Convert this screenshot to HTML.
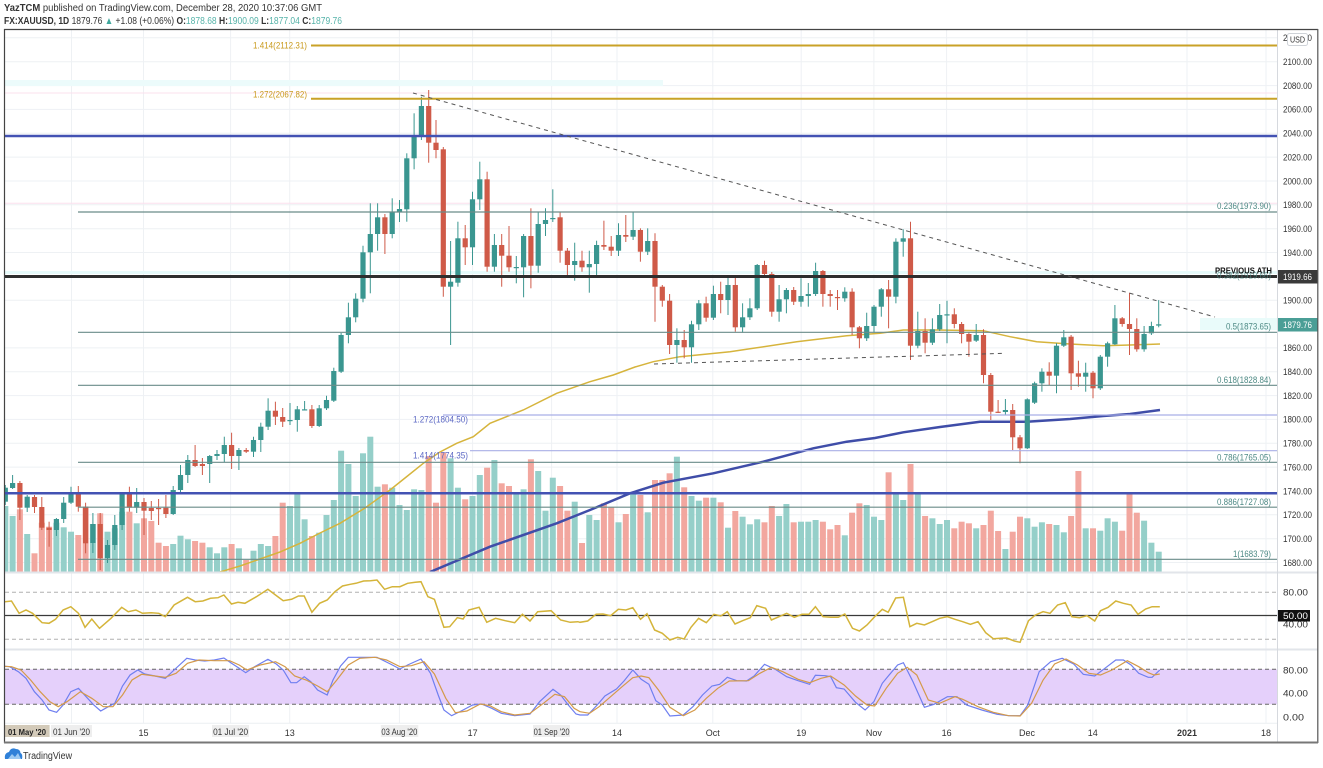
<!DOCTYPE html>
<html><head><meta charset="utf-8">
<style>
html,body{margin:0;padding:0;background:#fff;width:1323px;height:768px;overflow:hidden;}
svg{display:block;font-family:"Liberation Sans",sans-serif;}
</style></head><body>
<svg id="c" width="1323" height="768" viewBox="0 0 1323 768" xmlns="http://www.w3.org/2000/svg">
<defs>
<clipPath id="cm"><rect x="5" y="30" width="1272" height="542"/></clipPath>
<clipPath id="cr"><rect x="5" y="573" width="1272" height="76"/></clipPath>
<clipPath id="cs"><rect x="5" y="650" width="1272" height="73"/></clipPath>
</defs>
<rect x="0" y="0" width="1323" height="768" fill="#fff"/>

<!-- header -->
<text x="4" y="11" font-size="10" textLength="318" lengthAdjust="spacingAndGlyphs" fill="#333"><tspan font-weight="bold">YazTCM</tspan> published on TradingView.com, December 28, 2020 10:37:06 GMT</text>
<text x="4" y="24" font-size="10" textLength="338" lengthAdjust="spacingAndGlyphs" fill="#333"><tspan font-weight="bold">FX:XAUUSD, 1D</tspan> 1879.76 <tspan fill="#3fa79c">▲</tspan> +1.08 (+0.06%) <tspan font-weight="bold">O:</tspan><tspan fill="#56b3a9">1878.68</tspan> <tspan font-weight="bold">H:</tspan><tspan fill="#56b3a9">1900.09</tspan> <tspan font-weight="bold">L:</tspan><tspan fill="#56b3a9">1877.04</tspan> <tspan font-weight="bold">C:</tspan><tspan fill="#56b3a9">1879.76</tspan></text>

<!-- grid -->
<g stroke="#eef1f4" stroke-width="1">
<line x1="5" x2="1277" y1="37.8" y2="37.8"/><line x1="5" x2="1277" y1="61.7" y2="61.7"/><line x1="5" x2="1277" y1="85.6" y2="85.6"/><line x1="5" x2="1277" y1="109.4" y2="109.4"/><line x1="5" x2="1277" y1="133.2" y2="133.2"/><line x1="5" x2="1277" y1="157.1" y2="157.1"/><line x1="5" x2="1277" y1="181" y2="181"/><line x1="5" x2="1277" y1="204.8" y2="204.8"/><line x1="5" x2="1277" y1="228.7" y2="228.7"/><line x1="5" x2="1277" y1="252.5" y2="252.5"/><line x1="5" x2="1277" y1="300.2" y2="300.2"/><line x1="5" x2="1277" y1="347.9" y2="347.9"/><line x1="5" x2="1277" y1="371.7" y2="371.7"/><line x1="5" x2="1277" y1="395.6" y2="395.6"/><line x1="5" x2="1277" y1="419.4" y2="419.4"/><line x1="5" x2="1277" y1="443.3" y2="443.3"/><line x1="5" x2="1277" y1="467.1" y2="467.1"/><line x1="5" x2="1277" y1="514.8" y2="514.8"/><line x1="5" x2="1277" y1="538.7" y2="538.7"/><line x1="5" x2="1277" y1="562.5" y2="562.5"/>
<line x1="71.5" x2="71.5" y1="30" y2="723"/><line x1="143.5" x2="143.5" y1="30" y2="723"/><line x1="230.6" x2="230.6" y1="30" y2="723"/><line x1="289.7" x2="289.7" y1="30" y2="723"/><line x1="399.4" x2="399.4" y1="30" y2="723"/><line x1="472.6" x2="472.6" y1="30" y2="723"/><line x1="551.6" x2="551.6" y1="30" y2="723"/><line x1="617" x2="617" y1="30" y2="723"/><line x1="712.8" x2="712.8" y1="30" y2="723"/><line x1="801.2" x2="801.2" y1="30" y2="723"/><line x1="873.9" x2="873.9" y1="30" y2="723"/><line x1="946.6" x2="946.6" y1="30" y2="723"/><line x1="1027" x2="1027" y1="30" y2="723"/><line x1="1092.8" x2="1092.8" y1="30" y2="723"/><line x1="1187" x2="1187" y1="30" y2="723"/><line x1="1266" x2="1266" y1="30" y2="723"/>
</g>

<!-- faint ghost bands -->
<g clip-path="url(#cm)">
<rect x="5" y="80" width="658" height="6" fill="#ecfbfb"/>
<line x1="5" x2="1277" y1="93" y2="93" stroke="#fbe0ee" stroke-width="1"/>
<line x1="5" x2="1277" y1="203.3" y2="203.3" stroke="#fbe0ee" stroke-width="1"/>
<rect x="5" y="271" width="1272" height="3" fill="#e6fafa"/>
<rect x="1200" y="318" width="77" height="12" fill="#e9fbfa"/>
</g>

<!-- volume, MAs, candles (dynamic shapes) -->
<g id="vol" clip-path="url(#cm)"></g>
<g clip-path="url(#cm)" fill="none">
<polyline stroke="#d6b43c" stroke-width="1.5" points="220,572 240,566 260,559 280,552 300,543.3 320,533 340,523.3 365,508 390,490 405,478 423.3,463.3 440,452 456.7,443.3 473.3,436.7 490,423.3 523.3,410 556.7,393.3 590,381.7 613.3,375 635,367 653.3,361.7 680,356.7 730,351.7 753.3,348.3 796.7,341.7 846.7,335.7 880,333.3 903.3,330 936.7,330 983.3,330.7 1010,336.7 1036.7,341.7 1070,344 1103.3,345.7 1130,345 1160,344"/>
<polyline stroke="#3f4da8" stroke-width="2.5" points="430,572 490,546.7 556.7,523.3 590,510 630,493.3 663.3,482.7 713.3,473.3 763.3,461.7 813.3,448.3 846.7,441.7 875,438 903.3,432.3 940,427 980,421.7 1026.7,421.7 1070,419 1103.3,416 1130,414 1160,410"/>
</g>
<g id="cndl" clip-path="url(#cm)"></g>

<!-- drawings -->
<g clip-path="url(#cm)">
<line x1="311" x2="1277" y1="45.5" y2="45.5" stroke="#c9a227" stroke-width="2"/>
<line x1="311" x2="1277" y1="98.7" y2="98.7" stroke="#c9a227" stroke-width="2"/>
<line x1="5" x2="1277" y1="136" y2="136" stroke="#4352b3" stroke-width="2.5"/>
<line x1="78" x2="1277" y1="212" y2="212" stroke="#6a8c89" stroke-width="1.2"/>
<line x1="5" x2="1277" y1="276.5" y2="276.5" stroke="#2e2e2e" stroke-width="3"/>
<line x1="78" x2="1277" y1="332.3" y2="332.3" stroke="#6a8c89" stroke-width="1.2"/>
<line x1="78" x2="1277" y1="385.3" y2="385.3" stroke="#6a8c89" stroke-width="1.2"/>
<line x1="443" x2="1277" y1="415" y2="415" stroke="#a9afe6" stroke-width="1.2"/>
<line x1="470" x2="1277" y1="450.7" y2="450.7" stroke="#a9afe6" stroke-width="1.2"/>
<line x1="78" x2="1277" y1="462.3" y2="462.3" stroke="#6a8c89" stroke-width="1.2"/>
<line x1="5" x2="1277" y1="493.3" y2="493.3" stroke="#4352b3" stroke-width="2.5"/>
<line x1="78" x2="1277" y1="507.2" y2="507.2" stroke="#6a8c89" stroke-width="1.2"/>
<line x1="78" x2="1277" y1="559.3" y2="559.3" stroke="#6a8c89" stroke-width="1.2"/>
<line x1="413" y1="93" x2="1215" y2="317" stroke="#555" stroke-width="1" stroke-dasharray="4,4"/>
<line x1="654" y1="364" x2="1005" y2="353.3" stroke="#555" stroke-width="1" stroke-dasharray="4,4"/>
</g>

<!-- drawing labels -->
<g font-size="9" lengthAdjust="spacingAndGlyphs">
<text x="253" y="48.5" fill="#c99a1c" textLength="54" lengthAdjust="spacingAndGlyphs">1.414(2112.31)</text>
<text x="253" y="97.5" fill="#c99a1c" textLength="54" lengthAdjust="spacingAndGlyphs">1.272(2067.82)</text>
<text x="1217" y="209" fill="#4e8a85" textLength="54" lengthAdjust="spacingAndGlyphs">0.236(1973.90)</text>
<text x="1217" y="278.5" fill="#4e8a85" textLength="54" lengthAdjust="spacingAndGlyphs" opacity="0.8">0.382(1919.66)</text>
<text x="1215" y="273.5" fill="#111" font-weight="bold" font-size="8.5" textLength="57" lengthAdjust="spacingAndGlyphs">PREVIOUS ATH</text>
<text x="1226" y="329.5" fill="#4e8a85" textLength="45" lengthAdjust="spacingAndGlyphs">0.5(1873.65)</text>
<text x="1217" y="383" fill="#4e8a85" textLength="54" lengthAdjust="spacingAndGlyphs">0.618(1828.84)</text>
<text x="413" y="422.5" fill="#5c68c4" textLength="55" lengthAdjust="spacingAndGlyphs">1.272(1804.50)</text>
<text x="413" y="458.5" fill="#5c68c4" textLength="55" lengthAdjust="spacingAndGlyphs">1.414(1774.35)</text>
<text x="1217" y="460.5" fill="#4e8a85" textLength="54" lengthAdjust="spacingAndGlyphs">0.786(1765.05)</text>
<text x="1217" y="505" fill="#4e8a85" textLength="54" lengthAdjust="spacingAndGlyphs">0.886(1727.08)</text>
<text x="1233" y="557" fill="#4e8a85" textLength="38" lengthAdjust="spacingAndGlyphs">1(1683.79)</text>
</g>

<!-- pane separators -->
<line x1="5" x2="1318" y1="572.5" y2="572.5" stroke="#e2e5ea" stroke-width="2"/>
<line x1="5" x2="1318" y1="649.5" y2="649.5" stroke="#e2e5ea" stroke-width="2"/>
<line x1="5" x2="1277" y1="723.3" y2="723.3" stroke="#eceff2" stroke-width="1"/>

<!-- RSI pane -->
<g clip-path="url(#cr)">
<line x1="5" x2="1277" y1="592.3" y2="592.3" stroke="#b0b0b0" stroke-dasharray="4,3"/>
<line x1="5" x2="1277" y1="639.3" y2="639.3" stroke="#b0b0b0" stroke-dasharray="4,3"/>
<line x1="5" x2="1277" y1="615.5" y2="615.5" stroke="#3a3a3a" stroke-width="1.2"/>
<polyline id="rsi" fill="none" stroke="#d4b43a" stroke-width="1.5"/>
</g>

<!-- Stoch pane -->
<g clip-path="url(#cs)">
<rect x="5" y="669.3" width="1272" height="35" fill="#e5d0fb"/>
<line x1="5" x2="1277" y1="669.3" y2="669.3" stroke="#666" stroke-dasharray="4,3"/>
<line x1="5" x2="1277" y1="704.3" y2="704.3" stroke="#666" stroke-dasharray="4,3"/>
<polyline id="stk" fill="none" stroke="#6f7ff0" stroke-width="1.2"/>
<polyline id="std" fill="none" stroke="#d49a4a" stroke-width="1.2"/>
</g>

<!-- price axis -->
<line x1="1277.5" x2="1277.5" y1="29" y2="742" stroke="#d6d9de" stroke-width="1"/>
<g font-size="9" fill="#333">
<text x="1283" y="41" textLength="29" lengthAdjust="spacingAndGlyphs">2120.00</text>
<text x="1283" y="65" textLength="29" lengthAdjust="spacingAndGlyphs">2100.00</text>
<text x="1283" y="88.9" textLength="29" lengthAdjust="spacingAndGlyphs">2080.00</text>
<text x="1283" y="112.7" textLength="29" lengthAdjust="spacingAndGlyphs">2060.00</text>
<text x="1283" y="136.5" textLength="29" lengthAdjust="spacingAndGlyphs">2040.00</text>
<text x="1283" y="160.4" textLength="29" lengthAdjust="spacingAndGlyphs">2020.00</text>
<text x="1283" y="184.3" textLength="29" lengthAdjust="spacingAndGlyphs">2000.00</text>
<text x="1283" y="208.1" textLength="29" lengthAdjust="spacingAndGlyphs">1980.00</text>
<text x="1283" y="232" textLength="29" lengthAdjust="spacingAndGlyphs">1960.00</text>
<text x="1283" y="255.8" textLength="29" lengthAdjust="spacingAndGlyphs">1940.00</text>
<text x="1283" y="303.5" textLength="29" lengthAdjust="spacingAndGlyphs">1900.00</text>
<text x="1283" y="351.2" textLength="29" lengthAdjust="spacingAndGlyphs">1860.00</text>
<text x="1283" y="375" textLength="29" lengthAdjust="spacingAndGlyphs">1840.00</text>
<text x="1283" y="398.9" textLength="29" lengthAdjust="spacingAndGlyphs">1820.00</text>
<text x="1283" y="422.7" textLength="29" lengthAdjust="spacingAndGlyphs">1800.00</text>
<text x="1283" y="446.6" textLength="29" lengthAdjust="spacingAndGlyphs">1780.00</text>
<text x="1283" y="470.4" textLength="29" lengthAdjust="spacingAndGlyphs">1760.00</text>
<text x="1283" y="494.3" textLength="29" lengthAdjust="spacingAndGlyphs">1740.00</text>
<text x="1283" y="518.1" textLength="29" lengthAdjust="spacingAndGlyphs">1720.00</text>
<text x="1283" y="542" textLength="29" lengthAdjust="spacingAndGlyphs">1700.00</text>
<text x="1283" y="565.8" textLength="29" lengthAdjust="spacingAndGlyphs">1680.00</text>
<text x="1283" y="595.6" textLength="25" lengthAdjust="spacingAndGlyphs">80.00</text>
<text x="1283" y="627.6" textLength="25" lengthAdjust="spacingAndGlyphs">40.00</text>
<text x="1283" y="673.3" textLength="25" lengthAdjust="spacingAndGlyphs">80.00</text>
<text x="1283" y="696.6" textLength="25" lengthAdjust="spacingAndGlyphs">40.00</text>
<text x="1283" y="720.6" textLength="21" lengthAdjust="spacingAndGlyphs">0.00</text>
</g>
<rect x="1287.5" y="33.5" width="20" height="12" rx="2" fill="#fff" stroke="#cfd3d8"/>
<text x="1290" y="42.5" font-size="8" fill="#333" textLength="15" lengthAdjust="spacingAndGlyphs">USD</text>
<!-- price tags -->
<rect x="1278" y="270" width="40" height="13.5" fill="#3a3a3a"/>
<text x="1283" y="280" font-size="9" fill="#fff" textLength="29" lengthAdjust="spacingAndGlyphs">1919.66</text>
<rect x="1278" y="318" width="40" height="13.5" fill="#4a9e96"/>
<text x="1283" y="328" font-size="9" fill="#fff" textLength="29" lengthAdjust="spacingAndGlyphs">1879.76</text>
<rect x="1278" y="610" width="32" height="11.5" fill="#111"/>
<text x="1283" y="619" font-size="9" fill="#fff" textLength="25" lengthAdjust="spacingAndGlyphs">50.00</text>

<!-- time axis -->
<rect x="4.6" y="725" width="45" height="12" fill="#d3cab9"/>
<text x="27" y="735" font-size="8.5" font-weight="bold" fill="#222" text-anchor="middle" textLength="38" lengthAdjust="spacingAndGlyphs">01 May '20</text>
<g font-size="9" fill="#333" text-anchor="middle">
<rect x="51" y="725" width="41" height="12" fill="#eeeeee"/>
<text x="71.5" y="735" textLength="37" lengthAdjust="spacingAndGlyphs">01 Jun '20</text>
<text x="143.5" y="736">15</text>
<rect x="212" y="725" width="37" height="12" fill="#eeeeee"/>
<text x="230.6" y="735" textLength="35" lengthAdjust="spacingAndGlyphs">01 Jul '20</text>
<text x="289.7" y="736">13</text>
<rect x="380.8" y="725" width="37.5" height="12" fill="#eeeeee"/>
<text x="399.4" y="735" textLength="36" lengthAdjust="spacingAndGlyphs">03 Aug '20</text>
<text x="472.6" y="736">17</text>
<rect x="533" y="725" width="37" height="12" fill="#eeeeee"/>
<text x="551.6" y="735" textLength="36" lengthAdjust="spacingAndGlyphs">01 Sep '20</text>
<text x="617" y="736">14</text>
<text x="712.8" y="736">Oct</text>
<text x="801.2" y="736">19</text>
<text x="873.9" y="736">Nov</text>
<text x="946.6" y="736">16</text>
<text x="1027" y="736">Dec</text>
<text x="1092.8" y="736">14</text>
<text x="1187" y="736" font-weight="bold">2021</text>
<text x="1266" y="736">18</text>
</g>

<!-- frame -->
<line x1="4.5" x2="4.5" y1="29" y2="743" stroke="#444" stroke-width="1.2"/>
<line x1="4" x2="1318" y1="29.5" y2="29.5" stroke="#444" stroke-width="1.2"/>
<line x1="1317.8" x2="1317.8" y1="29" y2="743" stroke="#555" stroke-width="1.2"/>
<line x1="4" x2="1318" y1="742.5" y2="742.5" stroke="#777" stroke-width="2"/>

<!-- footer logo -->
<path d="M5 759 Q4 753 9 752 Q11 747 16 749 Q20 749 20.5 753 Q23 754 22 759 Z" fill="#2f80d8"/>
<path d="M8 759 L12 754 L15 757 L18 753 L21 759 Z" fill="#9cc9f2"/>
<text x="23" y="759" font-size="10" fill="#333" textLength="49" lengthAdjust="spacingAndGlyphs">TradingView</text>
</svg>
<script>
(function(){
var NS='http://www.w3.org/2000/svg';
function el(p,t,a){var e=document.createElementNS(NS,t);for(var k in a)e.setAttribute(k,a[k]);p.appendChild(e);return e;}
var C=[
[501.7,485,505,487.7],[488,475,489,483],[483,481,520,507.7],[507.7,495,512,496.7],[497,495,513,507],[507,497,530,527.7],[527.7,521.7,546.7,530],[530,518,536,519],[519,497,523,502.7],[502.7,486.7,504,494.3],
[494,486,511.7,506.7],[506.7,502.7,553.3,543.3],[543,513,553,524],[524,513,570,558],[558,540,563,545],[545,515,550,525],[525,493,530,493.3],[494,486.7,511.7,507.7],[507.7,488,513,502],[502,498,535,510.7],
[508,501,520,511],[508,499,525,509],[507.7,495,518,514],[514,486,515,490],[490,465,492,475],[475,455,483,460],[460,445,467,466],[464,458,475,466],[464,455,483,456],[456,450,460,454],
[454,436.7,462,445],[445,432.7,469,456],[456,448,470,450],[450,448,453,451.7],[451.7,436.7,457,440],[440,422.7,452,426.7],[426.7,398.3,430,410.7],[410.7,401.7,425,416.7],[417,408,427,421.7],[421,403,425,420],
[420,406,431.7,409.3],[409.3,401,410,409.3],[409.3,405,428,426],[426,405,427,408.3],[408.3,395.7,410,400],[400.7,367.7,402,371],[371.7,333,373,335],[335,302.7,343.3,317.3],[317.3,293.3,322.3,298.7],[298.7,245.7,302.3,252.3],
[252.3,203.3,293.3,234],[234,203.3,250.7,217.3],[217.3,214,254,234],[234,198.3,238.3,212.3],[211.7,200,222,209],[209.3,153.3,221.7,158.3],[158.3,113.3,169.3,136],[136,96.7,140,106],[106,90,162.7,142.7],[142.7,120,158.3,150],
[149.3,147,296.7,286.7],[286.7,241,345,281.7],[282.7,221.7,286.7,238.3],[238.3,225,265,247.3],[247.3,191.7,265,199.3],[199.3,161.7,210,179.3],[179.3,171.7,271.7,266.7],[266.7,234,271.7,245],[245,234,286.7,255.7],[255.7,226,271.7,267.3],
[267.3,256,283.3,267],[267.3,234,297.3,236],[236,208.3,288.3,265.7],[265.7,211.7,272.7,224],[224,208.3,236,220],[218.3,189.3,222,218],[217.3,211.7,262.7,250.7],[250.7,248,275,265],[265,242.7,280.7,261],[260.7,250.7,271.7,267.3],
[267.3,250.7,292.7,264],[264,240.7,276.7,245],[245,220.7,250,246.7],[246.7,236,256,250.7],[250.7,223.3,256,235],[235,215,242,236.7],[236.7,211.7,240,230],[230,228.3,261.7,251.7],[251.7,228.3,255,241],[241,233.3,321.7,286.7],
[286.7,285,306.7,300.7],[300.7,294,354,345],[345,328.3,362.7,340],[340,330,358.3,347.3],[347.3,320.7,362.7,324.3],[324.3,300,330,303.3],[303.3,296.7,321.7,317.7],[317.7,285.7,320,294],[294,281.7,313.3,300],[300,276.7,315,285],
[285,277.3,331.7,327.3],[327.3,303.3,332.7,317.3],[317.3,298.3,320,308.3],[308.3,264,310,265],[265,260.7,277.3,274],[274,272,316.7,311.7],[311.7,285,321.7,299.3],[299.3,288,313.3,290],[290,287,305,301.7],[301.7,278.3,306.7,296],
[296,283,306.7,294],[294,262.7,296,271],[271,270,306.7,294],[294,290,306.7,296],[297,290,310,298],[298.3,287.3,301.7,291.7],[291.7,288.3,335,327.3],[327.3,326,348.3,338.3],[338.3,312.7,341,326],[326,305,332.7,306.7],
[306.7,288,316.7,289.3],[289.3,280,328.3,296.7],[296.7,238.3,303.3,241.7],[241.7,229.3,256.7,238.3],[238.3,221.7,360,345.7],[345.7,311.7,348.3,331],[331,318.3,353.3,342.7],[342.7,318.3,345,329.3],[329.3,304,331,315],[315,300.7,343.3,314.3],
[314.3,308.3,328.3,324],[324,322,343.3,334],[334,332,356.7,341.7],[340.7,324,342,335],[335,329.3,383.3,375],[375,373,420,411.7],[411.7,400,413,412],[412,399,415,410],[410,404,450,437.3],[437.3,435,463.3,448.3],
[448.3,398.3,449,399.3],[402.7,381.7,404,383.3],[383.3,368.3,391.7,371.7],[371.7,362.3,385,375.7],[375.7,343.3,393.3,345.7],[345.7,330,347,337.3],[336.7,335,390,373.3],[373.3,360.7,386.7,376.7],[376.7,362.7,391.7,372.7],[372.7,371,398.3,388.3],
[388.3,355,390,356.7],[356.7,341.7,366.7,343.3],[344.3,305,345,318.3],[318.3,317,326.7,324],[324,292.7,355,329],[329,318.3,351.7,349.3],[349.3,326,351.7,334],[333.3,321.7,335,326],[325.6,300.1,327.3,324.3]
];
var V=[506,516,509.3,534,553.3,522.7,526.7,522.7,527.3,531.7,535,506.7,524,513.3,531.7,528.3,511.7,511.7,523.3,518.3,521,542.7,546,544,535.7,539.3,541,542.7,547.3,553.3,547.3,544,548.3,560,550.7,544,546,536,502.7,506,492.7,
519.3,536,532.7,515,500,450.7,464,496,453.3,436.7,486.7,484.3,487.7,505,510,489.3,490,456,502.7,452.7,458.3,487.7,499.3,496,475,467.7,460,483.3,486,493.3,489.3,459.3,471,510.7,477.7,486,510.7,501.7,543,515,
520,503.3,507.3,522.3,514,494,495,512.3,480,480,473.3,456.7,487.3,496,500.7,497.7,497.7,502.3,527.7,511,516.7,524.3,519.3,522.3,506,516,504,522.3,521.7,521.7,520,521.7,529.3,525,535.3,512.7,503.3,505,516.7,520,
472.3,494.3,500,464,494.3,516,518.3,524,520,528.3,521.7,523.3,528.3,525,510.7,531,549,531.7,516.7,518.3,526.7,522.3,524,525,532.3,516,471,528.3,528.3,530.7,518.3,521.7,530.7,494.3,512.7,520.7,542.7,551.7];
var gv=document.getElementById('vol'),gc=document.getElementById('cndl');
for(var i=0;i<C.length;i++){
 var d=C[i],x=5.3+7.3*i,up=d[3]<=d[0];
 var vt=V[i]||540;
 el(gv,'rect',{x:(x-3).toFixed(1),y:vt,width:6,height:(572-vt).toFixed(1),fill:up?'#95cfc9':'#f2a79f'});
 var col=up?'#3a9690':'#cf5a48';
 el(gc,'line',{x1:x.toFixed(1),x2:x.toFixed(1),y1:d[1],y2:d[2],stroke:col,'stroke-width':1});
 var t=Math.min(d[0],d[3]),h=Math.max(1.2,Math.abs(d[0]-d[3]));
 el(gc,'rect',{x:(x-2.6).toFixed(1),y:t,width:5.2,height:h.toFixed(1),fill:col});
}
function pts(a,ox,maxzx){var s=[];for(var i=0;i<a.length;i+=2){if(maxzx!==undefined&&a[i]>maxzx)continue;s.push((ox+a[i]/2.613).toFixed(1)+','+(570+a[i+1]/3).toFixed(1));}return s;}
var r9=[0,97,30,93,50,130,68,120,85,130,110,158,128,160,145,148,165,120,185,110,205,130,222,172,240,147,260,175,290,145,318,112,335,125,355,120,372,130,395,128,415,130,432,140,455,105,490,82,510,95,530,93,550,85,570,83,585,75,605,102,622,97,640,100,670,80,700,58,720,75,740,92,762,88,780,78,795,78,815,127,835,100,855,90,875,65,895,48,915,43,930,40,950,33,968,32,985,30,1005,58,1025,50,1045,50,1065,40,1085,37,1100,35,1118,80,1135,88,1160,172,1175,170,1195,143,1210,147,1225,120,1252,112,1272,157,1295,145,1320,152,1345,158,1365,133,1385,153,1405,125,1440,122,1465,150,1490,157,1510,155];
var r10=[0,157,20,153,42,133,60,132,80,137,100,118,120,120,138,113,158,148,175,131,195,180,215,190,235,210,255,202,272,207,290,172,310,145,330,158,350,133,368,138,385,125,405,162,425,152,445,143,462,107,485,115,500,150,520,140,540,130,560,142,580,133,598,133,615,110,635,140,655,142,675,142,692,132,712,175,730,183,750,165,770,140,790,118,805,127,825,84,845,82,862,170,880,160,900,165,920,155,940,145,960,140,980,148,1000,155,1020,163,1040,155,1060,188,1080,206,1100,205,1115,204,1135,213,1150,217,1172,152,1190,135,1210,125,1228,130,1248,105,1268,98,1285,140,1305,143,1325,137,1345,153,1360,122,1380,112,1400,93,1420,100,1440,105,1458,133,1478,117,1495,110,1515,110];
var k9=[0,288,25,290,48,305,68,325,90,365,110,390,128,420,148,427,165,405,185,365,205,355,225,380,245,405,263,423,283,410,300,400,320,348,340,315,360,300,378,312,405,318,432,325,455,300,488,265,510,270,535,273,560,270,585,264,605,280,625,295,642,308,665,290,700,268,722,282,740,300,760,338,775,338,795,320,812,335,830,360,855,375,870,330,890,288,910,262,940,262,985,262,1020,282,1045,297,1065,285,1100,267,1125,310,1145,375,1160,420,1180,437,1205,423,1235,405,1258,402,1285,415,1310,430,1345,437,1385,432,1410,395,1445,358,1465,375,1485,405,1505,432];
var k10=[0,435,20,435,45,405,65,378,95,357,115,333,138,300,160,328,180,343,198,392,215,405,235,438,270,435,295,410,320,375,345,348,365,343,385,322,410,332,435,333,455,318,482,283,510,298,540,320,570,332,600,343,615,316,640,317,655,320,670,353,690,357,720,397,745,420,768,395,790,340,815,305,830,285,845,278,870,335,900,412,925,403,960,380,985,380,1010,405,1050,420,1090,433,1120,437,1150,437,1170,405,1200,305,1230,275,1260,265,1290,282,1315,313,1345,318,1375,292,1400,270,1420,270,1440,285,1460,310,1485,322,1495,322,1515,300];
var d9=[0,288,30,290,55,300,80,330,105,365,130,395,152,410,175,395,210,365,240,385,270,410,295,410,320,375,345,330,370,313,405,318,432,322,460,310,490,280,520,270,560,272,600,272,625,285,645,300,680,285,720,275,745,290,770,318,800,330,830,348,855,365,880,330,910,285,940,265,980,262,1010,270,1045,290,1075,287,1108,275,1135,312,1165,385,1190,428,1220,423,1255,402,1280,407,1310,425,1345,435,1385,430,1420,400,1450,373,1475,380,1500,415];
var d10=[0,425,25,430,50,410,80,380,110,350,138,323,160,318,180,323,205,360,235,412,270,437,300,420,330,385,360,355,390,333,440,332,470,310,500,292,530,305,570,328,600,338,630,325,655,318,690,345,720,378,750,405,770,408,800,355,830,310,855,292,880,315,910,390,940,400,980,380,1000,388,1040,410,1080,427,1120,437,1150,438,1180,400,1210,330,1240,282,1270,267,1300,285,1330,310,1360,315,1390,300,1430,272,1460,290,1485,308,1500,315,1515,312];
document.getElementById('rsi').setAttribute('points',pts(r9,0,1512).concat(pts(r10,580)).join(' '));
document.getElementById('stk').setAttribute('points',pts(k9,0,1512).concat(pts(k10,580)).join(' '));
document.getElementById('std').setAttribute('points',pts(d9,0,1512).concat(pts(d10,580)).join(' '));
})();
</script>
</body></html>
